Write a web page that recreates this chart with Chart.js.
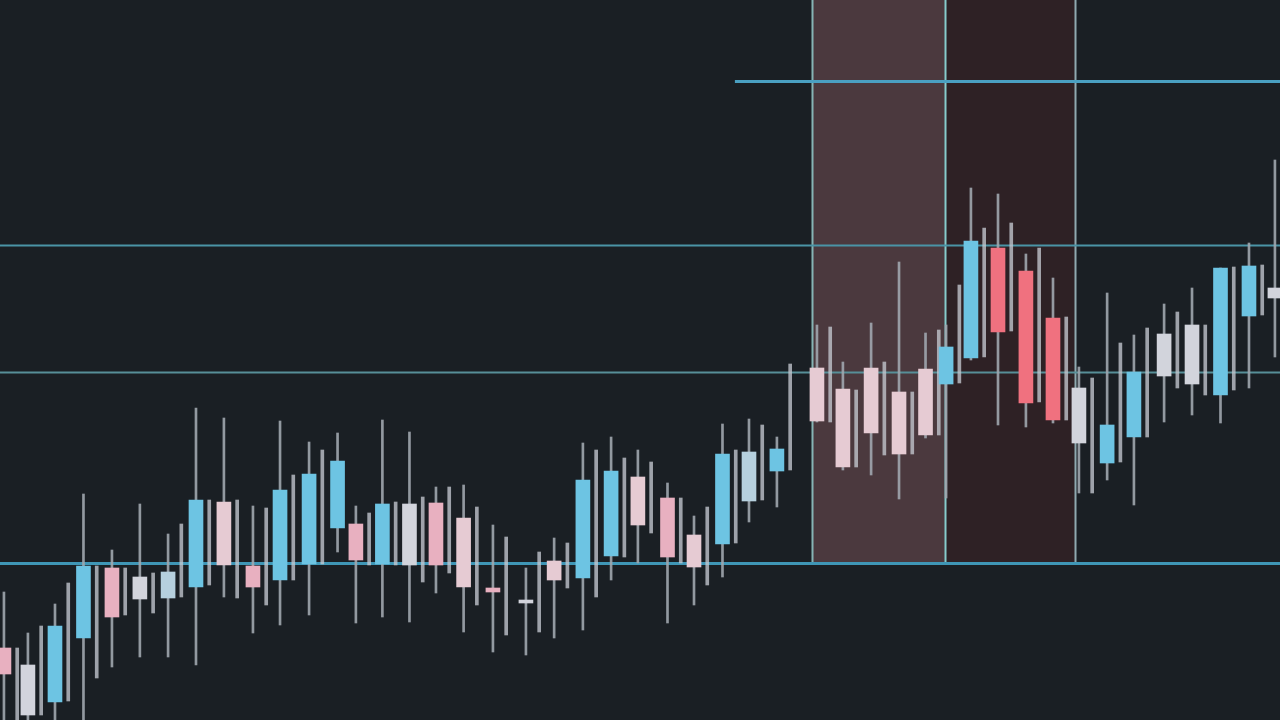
<!DOCTYPE html>
<html>
<head>
<meta charset="utf-8">
<script src="https://cdn.jsdelivr.net/npm/chart.js@4.4.1/dist/chart.umd.min.js"></script>
<style>
  html, body { margin: 0; padding: 0; background: #1a1f24; }
  #wrap { width: 1280px; height: 720px; position: relative; }
</style>
</head>
<body>
<div id="wrap"><canvas id="c"></canvas></div>
<script>
// ---- data (time index, price) ----
const time = [0.14,0.99,1.95,2.96,3.97,4.96,5.96,6.95,7.94,8.97,9.93,10.96,11.97,12.62,13.56,14.52,15.46,16.44,17.48,18.65,19.65,20.67,21.67,22.62,23.67,24.61,25.62,26.56,27.55,28.97,29.89,30.89,31.88,32.82,33.55,34.43,35.39,36.38,37.34,38.26,39.26,40.21,41.28,42.27,43.28,44.29,45.21];
const open  = [23.60,20.25,20.90,24.10,27.60,26.05,26.10,26.65,30.90,27.70,27.00,27.80,29.60,29.80,27.80,30.80,30.85,30.10,26.60,26.00,27.95,27.10,28.20,32.15,31.10,29.25,28.80,30.95,32.45,37.60,36.55,37.60,36.40,37.55,36.80,38.10,43.60,42.45,40.10,36.60,32.85,34.15,37.20,36.80,36.25,40.20,41.10];
const close = [22.30,22.75,24.70,27.70,25.15,27.15,27.40,31.00,27.75,26.65,31.50,32.30,32.95,28.00,30.80,27.75,27.75,26.65,26.40,25.85,27.00,32.00,32.45,29.75,28.15,27.65,33.30,33.40,33.55,34.95,32.65,34.35,33.30,34.25,38.65,43.95,39.40,35.85,35.00,33.85,34.75,37.40,39.30,39.75,42.60,42.70,41.60];
const high  = [26.40,24.35,25.80,31.30,28.50,30.80,29.30,35.60,35.10,30.70,34.95,33.90,34.35,30.70,35.00,34.40,31.65,31.75,29.75,27.60,29.10,33.85,34.15,33.50,31.85,30.20,34.80,35.05,34.15,39.75,37.90,39.85,42.90,39.35,39.75,46.60,46.30,43.30,42.10,37.65,41.35,39.25,40.80,41.60,42.60,43.85,48.00];
const low   = [19.60,19.60,19.75,19.60,22.65,23.15,23.15,22.75,26.15,24.35,24.75,25.25,28.40,24.85,25.15,24.90,26.35,24.40,23.40,23.25,24.10,24.50,27.00,27.85,24.85,25.75,27.15,29.90,30.65,34.90,32.50,32.25,31.05,34.10,31.10,38.00,34.75,34.65,34.85,31.35,32.00,30.75,34.90,35.25,34.85,36.60,38.15];
// signal class of each candle: U strong up, u mild up, n flat, w mild down, d down, D strong down
const signal = ['d','n','U','U','d','n','u','U','w','d','U','U','U','d','U','n','d','w','d','n','w','U','U','w','d','w','U','u','U','w','w','w','w','w','U','U','D','D','D','n','U','U','n','n','U','U','n'];
// echo (shadow) ticks trailing each candle; null = none
const echoHigh = [23.60,24.70,26.85,27.70,27.60,27.35,29.80,31.00,31.00,30.60,32.25,33.50,null,30.35,30.90,31.15,31.65,30.65,29.15,28.40,28.85,33.50,33.10,32.90,31.10,30.65,33.50,34.75,37.80,39.65,36.50,37.90,36.40,39.50,41.75,44.60,44.85,43.60,40.15,37.10,38.85,39.60,40.40,39.75,42.65,42.75,null];
const echoLow  = [19.75,20.25,20.95,22.10,25.25,25.35,26.15,26.75,26.10,25.75,27.00,27.80,null,27.75,27.75,26.90,27.35,25.75,24.25,24.40,26.60,26.15,28.15,29.35,27.85,26.75,28.85,31.00,32.50,34.90,32.65,33.25,33.30,34.25,36.85,38.15,39.45,35.90,35.00,31.35,32.90,34.15,36.60,36.25,36.50,40.25,null];
// horizontal levels and highlighted sessions
const levelPrice = [51.95, 43.75, 37.40, 27.85];
const levelFrom  = [26.06, 0, 0, 0];
const zoneFrom = [28.79, 33.51];
const zoneTo   = [33.51, 38.12];
const zoneMarks = [28.79, 33.51, 38.12];

// ---- styles ----
const palette = { U:'#6dc4e3', u:'#b6d0de', n:'#d2d4dc', w:'#e6cbd3', d:'#e8b0c0', D:'#f0717f' };
const levelStyle = [
  {c:'#4aa0c2', w:3}, {c:'#4a94a6', w:2}, {c:'#578f98', w:2}, {c:'#3f96b6', w:3}
];
const zoneFill = ['#4b393e', '#2e2125'];
const markColor = ['#86b4b4', '#86cccc', '#8fa9b0'];
const ECHO_OFFSET = 0.47;

const bodies = time.map((t,i)=>({x:t, y:[Math.min(open[i],close[i]), Math.max(open[i],close[i])]}));
const wicks  = time.map((t,i)=>({x:t, y:[low[i], high[i]]}));
const echoes = [];
time.forEach((t,i)=>{ if (echoHigh[i]!==null) echoes.push({x:t+ECHO_OFFSET, y:[echoLow[i], echoHigh[i]]}); });

const backdrop = {
  id:'backdrop',
  beforeDatasetsDraw(chart){
    const {ctx, scales:{x,y}, chartArea:a} = chart;
    ctx.save();
    ctx.fillStyle = '#1a1f24';
    ctx.fillRect(a.left, a.top, a.right-a.left, a.bottom-a.top);
    const bottom = y.getPixelForValue(levelPrice[3]);
    zoneFrom.forEach((z,i)=>{
      const x0 = x.getPixelForValue(z), x1 = x.getPixelForValue(zoneTo[i]);
      ctx.fillStyle = zoneFill[i];
      ctx.fillRect(x0, a.top, x1-x0, bottom-a.top);
    });
    zoneMarks.forEach((z,i)=>{
      const px = Math.round(x.getPixelForValue(z))+0.5;
      ctx.strokeStyle = markColor[i]; ctx.lineWidth = 2;
      ctx.beginPath(); ctx.moveTo(px, a.top); ctx.lineTo(px, bottom); ctx.stroke();
    });
    levelPrice.forEach((p,i)=>{
      const py = Math.round(y.getPixelForValue(p))+0.5;
      ctx.strokeStyle = levelStyle[i].c; ctx.lineWidth = levelStyle[i].w;
      ctx.beginPath(); ctx.moveTo(x.getPixelForValue(levelFrom[i]), py); ctx.lineTo(a.right, py); ctx.stroke();
    });
    ctx.restore();
  }
};

new Chart(document.getElementById('c'), {
  type: 'bar',
  data: {
    datasets: [
      { label:'echo', data: echoes, backgroundColor:'rgba(196,200,208,0.78)', barThickness:3, grouped:false, order:3 },
      { label:'wick', data: wicks, backgroundColor:'rgba(160,166,174,0.9)', barThickness:2, grouped:false, order:2 },
      { label:'body', data: bodies, backgroundColor: signal.map(s=>palette[s]), barThickness:14, grouped:false, order:1 }
    ]
  },
  options: {
    responsive: true,
    maintainAspectRatio: false,
    animation: false,
    layout: { padding: 0 },
    plugins: { legend:{display:false}, tooltip:{enabled:false} },
    scales: {
      x: { type:'linear', min:0, max:45.39, offset:false, display:false },
      y: { type:'linear', min:20, max:56, display:false }
    }
  },
  plugins: [backdrop]
});
</script>
</body>
</html>
